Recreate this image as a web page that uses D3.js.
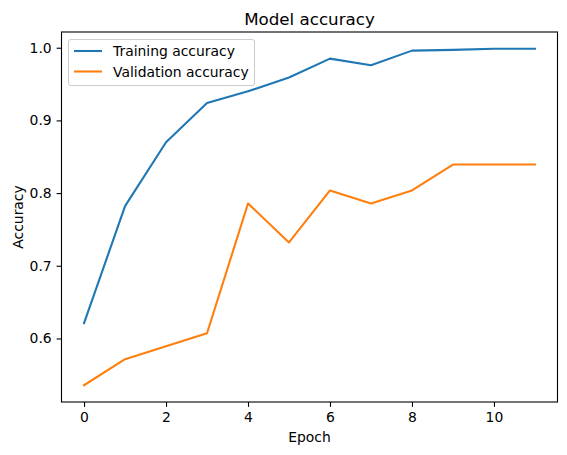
<!DOCTYPE html>
<html>
<head>
<meta charset="utf-8">
<script src="https://cdn.jsdelivr.net/npm/d3@7"></script>
<style>
  html, body { margin: 0; padding: 0; background: #fff; }
  svg { display: block; font-family: "DejaVu Sans", sans-serif; }
</style>
</head>
<body>
<svg id="chart" width="567" height="455"></svg>
<script>
const epochs = [0, 1, 2, 3, 4, 5, 6, 7, 8, 9, 10, 11];
const trainingAccuracy = [0.621, 0.782, 0.870, 0.924, 0.940, 0.959, 0.985, 0.976, 0.996, 0.997, 0.9985, 0.9985];
const validationAccuracy = [0.5357, 0.5714, 0.5893, 0.6071, 0.7857, 0.7321, 0.8036, 0.7857, 0.8036, 0.8393, 0.8393, 0.8393];
const xTicks = [0, 2, 4, 6, 8, 10];
const yTicks = [0.6, 0.7, 0.8, 0.9, 1.0];
const seriesNames = ["Training accuracy", "Validation accuracy"];
const seriesColors = ["#1f77b4", "#ff7f0e"];

const svg = d3.select("#chart");
const plot = { left: 61.5, right: 557.5, top: 32, bottom: 402 };

const allY = trainingAccuracy.concat(validationAccuracy);
const yMin = d3.min(allY), yMax = d3.max(allY);
const yPad = (yMax - yMin) * 0.05;
const xPad = (d3.max(epochs) - d3.min(epochs)) * 0.05;

const x = d3.scaleLinear()
  .domain([d3.min(epochs) - xPad, d3.max(epochs) + xPad])
  .range([plot.left, plot.right]);
const y = d3.scaleLinear()
  .domain([yMin - yPad, yMax + yPad])
  .range([plot.bottom, plot.top]);

const line = d3.line()
  .x((d, i) => x(epochs[i]))
  .y(d => y(d));

[trainingAccuracy, validationAccuracy].forEach((s, k) => {
  svg.append("path")
    .datum(s)
    .attr("fill", "none")
    .attr("stroke", seriesColors[k])
    .attr("stroke-width", 2.1)
    .attr("stroke-linejoin", "round")
    .attr("stroke-linecap", "square")
    .attr("d", line);
});

// Axes
const xAxis = d3.axisBottom(x).tickValues(xTicks).tickFormat(d3.format("d")).tickSize(4.9).tickPadding(4.9);
const yAxis = d3.axisLeft(y).tickValues(yTicks).tickFormat(d3.format(".1f")).tickSize(4.9).tickPadding(4.9);

const gx = svg.append("g").attr("transform", `translate(0,${plot.bottom})`).call(xAxis);
const gy = svg.append("g").attr("transform", `translate(${plot.left},0)`).call(yAxis);
[gx, gy].forEach(g => {
  g.select(".domain").remove();
  g.selectAll(".tick line").attr("stroke", "#000").attr("stroke-width", 1.1);
  g.selectAll(".tick text").attr("fill", "#000").style("font-size", "13.9px").style("font-family", "DejaVu Sans");
});

// Frame
svg.append("rect")
  .attr("x", plot.left).attr("y", plot.top)
  .attr("width", plot.right - plot.left).attr("height", plot.bottom - plot.top)
  .attr("fill", "none").attr("stroke", "#000").attr("stroke-width", 1.1);

// Title and labels
const cx = (plot.left + plot.right) / 2;
svg.append("text").attr("x", cx).attr("y", 25).attr("text-anchor", "middle")
  .style("font-size", "16.7px").text("Model accuracy");
svg.append("text").attr("x", cx).attr("y", 442).attr("text-anchor", "middle")
  .style("font-size", "13.9px").text("Epoch");
svg.append("text")
  .attr("transform", `translate(23,${(plot.top + plot.bottom) / 2}) rotate(-90)`)
  .attr("text-anchor", "middle")
  .style("font-size", "13.9px").text("Accuracy");

// Legend
const lg = svg.append("g");
lg.append("rect").attr("x", 68.5).attr("y", 39.5).attr("width", 186).attr("height", 46)
  .attr("rx", 2.5).attr("fill", "#fff").attr("fill-opacity", 0.8)
  .attr("stroke", "#cccccc").attr("stroke-width", 1);
seriesNames.forEach((name, k) => {
  const ly = 51 + k * 20.5;
  lg.append("line").attr("x1", 74).attr("x2", 102).attr("y1", ly).attr("y2", ly)
    .attr("stroke", seriesColors[k]).attr("stroke-width", 2.1);
  lg.append("text").attr("x", 113).attr("y", ly + 5).style("font-size", "13.9px").text(name);
});
</script>
</body>
</html>
